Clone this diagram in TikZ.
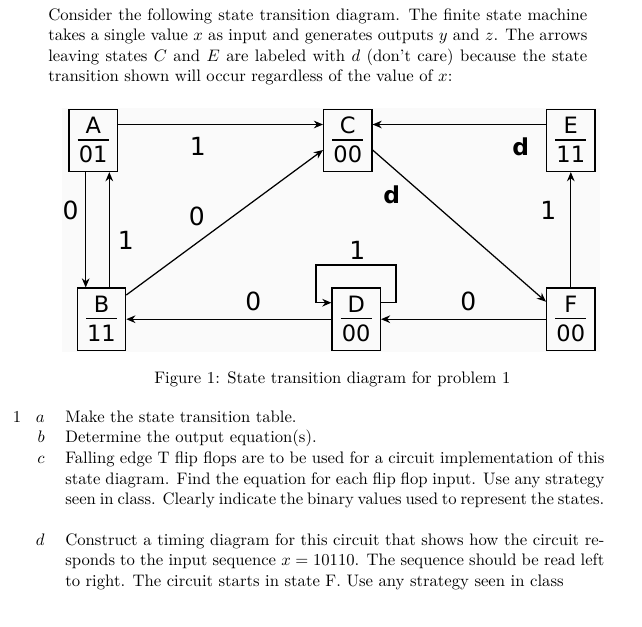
\documentclass[tikz,border=0pt]{standalone}
\usepackage{fontspec}
\newfontfamily\dejavu{DejaVu Sans}
\usetikzlibrary{arrows.meta}
\tikzset{
  statebox/.style={draw, line width=0.75pt, minimum width=29pt, minimum height=37.3pt, inner sep=0pt},
  sttext/.style={font=\dejavu\fontsize{13.5}{15}\selectfont, inner sep=0pt},
  edgelbl/.style={font=\dejavu\fontsize{15}{17}\selectfont, inner sep=0pt},
  dlbl/.style={font=\dejavu\bfseries\fontsize{14}{16}\selectfont, inner sep=0pt},
  arr/.style={-{Stealth[length=5.5pt,width=4.6pt]}, line width=0.75pt},
  plain/.style={line width=0.75pt},
  txt/.style={anchor=base west, inner sep=0pt, font=\fontsize{10}{12}\selectfont},
  txtr/.style={anchor=base east, inner sep=0pt, font=\fontsize{10}{12}\selectfont},
}
\newcommand\jline[1]{\makebox[323.4pt][s]{#1}}
\newcommand\mkstate[5]{%
  \node[statebox] (#1) at (#2,#3) {};
  \node[sttext] (#1L) at ([yshift=-10.2pt]#1.north) {#4};
  \node[sttext] (#1O) at ([yshift=10.8pt]#1.south) {#5};
  \draw[line width=0.75pt] ([xshift=-9.3pt,yshift=0.2pt]#1.center) -- ([xshift=9.3pt,yshift=0.2pt]#1.center);
}
\begin{document}
\begin{tikzpicture}[x=0.6pt,y=-0.6pt]
\useasboundingbox (0,0) rectangle (642,626);
% faint background of the figure
\fill[black!2] (62,108) rectangle (600,352);

% paragraph
\node[txt] (p1) at (48,20.5) {\jline{Consider the following state transition diagram.  The finite state machine}};
\node[txt] (p2) at (48,41) {\jline{takes a single value $x$ as input and generates outputs $y$ and $z$.  The arrows}};
\node[txt] (p3) at (48,61.5) {\jline{leaving states $C$ and $E$ are labeled with $d$ (don't care) because the state}};
\node[txt] (p4) at (48,82) {transition shown will occur regardless of the value of $x$:};

% states
\mkstate{A}{93.2}{140.4}{A}{01}
\mkstate{C}{347.8}{140.4}{C}{00}
\mkstate{E}{570.8}{140.4}{E}{11}
\mkstate{B}{101.5}{319.2}{B}{11}
\mkstate{D}{356.2}{319.2}{D}{00}
\mkstate{F}{570.8}{319.2}{F}{00}

% helper coordinates
\coordinate (xab) at (85.7,0);
\coordinate (xba) at (109.3,0);
\coordinate (ytop) at (0,124.5);
\coordinate (ybc1) at (0,295);
\coordinate (ybc2) at (0,150);
\coordinate (ycf2) at (0,301.7);
\coordinate (ylp) at (0,302.7);
\coordinate (lp1) at (396,302.7);
\coordinate (lp2) at (396,265);
\coordinate (lp3) at (316,265);
\coordinate (lp4) at (316,302.7);

% connectors
\draw[arr] (A.south -| xab) -- (B.north -| xab);
\draw[arr] (B.north -| xba) -- (A.south -| xba);
\draw[arr] (A.east |- ytop) -- (C.west |- ytop);
\draw[arr] (E.west |- ytop) -- (C.east |- ytop);
\draw[arr] (B.east |- ybc1) -- (C.west |- ybc2);
\draw[arr] (C.east |- ybc2) -- (F.west |- ycf2);
\draw[arr] (F.north) -- (E.south);
\draw[arr] (F.west) -- (D.east);
\draw[arr] (D.west) -- (B.east);
\draw[arr] (D.east |- ylp) -- (lp1) -- (lp2) -- (lp3) -- (lp4) -- (D.west |- ylp);

% edge labels
\node[edgelbl] (l1) at (70.7,210) {0};
\node[edgelbl] (l2) at (125.7,240) {1};
\node[edgelbl] (l3) at (197.7,146.7) {1};
\node[edgelbl] (l4) at (196.7,216.7) {0};
\node[dlbl] (l5) at (520.7,146.7) {d};
\node[dlbl] (l6) at (391.7,195) {d};
\node[edgelbl] (l7) at (548.3,210) {1};
\node[edgelbl] (l8) at (357.3,250) {1};
\node[edgelbl] (l9) at (253.3,301.7) {0};
\node[edgelbl] (l10) at (468.3,301.7) {0};

% caption
\node[txt] (cap) at (154,383.3) {Figure 1: State transition diagram for problem 1};

% items
\node[txt] (n1) at (12.5,422.3) {1};
\node[txtr] (ia) at (45,422.3) {$a$};
\node[txtr] (ib) at (45,442.7) {$b$};
\node[txtr] (ic) at (45,463.3) {$c$};
\node[txtr] (id) at (45,545) {$d$};
\node[txt] (ta) at (65,422.3) {Make the state transition table.};
\node[txt] (tb) at (65,442.7) {Determine the output equation(s).};
\node[txt] (tc1) at (65,463.3) {\jline{Falling edge T flip flops are to be used for a circuit implementation of this}};
\node[txt] (tc2) at (65,484) {\jline{state diagram. Find the equation for each flip flop input. Use any strategy}};
\node[txt] (tc3) at (65,504.5) {\jline{seen in class. Clearly indicate the binary values used to represent the states.}};
\node[txt] (td1) at (65,545) {\jline{Construct a timing diagram for this circuit that shows how the circuit re-}};
\node[txt] (td2) at (65,565.5) {\jline{sponds to the input sequence $x = 10110$. The sequence should be read left}};
\node[txt] (td3) at (65,586) {to right.  The circuit starts in state F. Use any strategy seen in class};
\end{tikzpicture}
\end{document}
